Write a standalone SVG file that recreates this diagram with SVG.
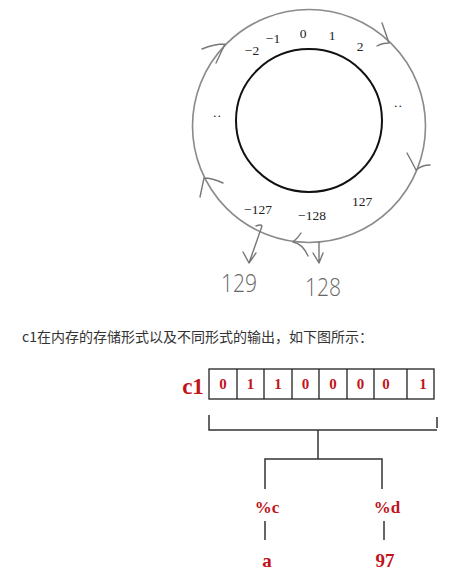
<svg xmlns="http://www.w3.org/2000/svg" width="474" height="586" viewBox="0 0 474 586">
<style>
.num{font-family:"Liberation Serif","DejaVu Serif",serif;font-size:13.5px;fill:#222;text-anchor:middle}
.hand{fill:none;stroke:#777;stroke-width:1.4;stroke-linecap:round;stroke-linejoin:round}
.hw{font-family:"Open Sans","DejaVu Sans",sans-serif;font-weight:300;font-size:26px;fill:#666;text-anchor:middle}
.red{font-family:"Liberation Serif","DejaVu Serif",serif;font-weight:bold;fill:#c0141c;text-anchor:middle}
.ln{stroke:#333;stroke-width:1.5;fill:none}
</style>
<rect width="474" height="586" fill="#fff"/>
<g id="ring">
<circle cx="309" cy="126" r="116.5" fill="none" stroke="#8a8a8a" stroke-width="1.6"/>
<ellipse cx="309" cy="120.5" rx="73" ry="71.5" fill="none" stroke="#111" stroke-width="2"/>
<text class="num" x="303" y="38">0</text>
<text class="num" x="332" y="40">1</text>
<text class="num" x="360" y="51">2</text>
<text class="num" x="273" y="43">−1</text>
<text class="num" x="252" y="55">−2</text>
<text class="num" x="217" y="120">··</text>
<text class="num" x="398" y="110">··</text>
<text class="num" x="258" y="214">−127</text>
<text class="num" x="312" y="220">−128</text>
<text class="num" x="362" y="206">127</text>
</g>
<g id="connectors">
<path class="hand" d="M202,49 Q214,44 225,44 M225,44 L216,63"/>
<path class="hand" d="M382,23 Q386,34 389,43 Q382,43 377,46"/>
<path class="hand" d="M223,183 Q212,178 204,178 M204,178 L200,197"/>
<path class="hand" d="M407,153 Q412,162 416,170 Q422,165 430,165"/>
<path class="hand" d="M256,226 Q261,224 262,226 L249,263 M243,252 L249,263 L256,253"/>
<path class="hand" d="M301,233 Q298,238 293,242 Q303,244 308,256"/>
<path class="hand" d="M319,242 L319,263 M313,253 L319,263 L323,253"/>
<text class="hw" x="239" y="292" textLength="36" lengthAdjust="spacingAndGlyphs">129</text>
<text class="hw" x="323" y="296" textLength="36" lengthAdjust="spacingAndGlyphs">128</text>
</g>
<text x="22" y="342" font-family="'Noto Sans CJK SC','Noto Sans',sans-serif" font-size="14" fill="#333">c1在内存的存储形式以及不同形式的输出，如下图所示：</text>
<g id="c1">
<text class="red" x="193" y="394" font-size="23">c1</text>
<rect x="209" y="369" width="225" height="30" fill="none" stroke="#222" stroke-width="1.3"/>
<path d="M237,369V399M264,369V399M292,369V399M319,369V399M347,369V399M374,369V399M407,369V399" stroke="#222" stroke-width="1.3"/>
<g class="red" font-size="15">
<text x="223" y="389">0</text><text x="250.5" y="389">1</text><text x="278" y="389">1</text><text x="305.5" y="389">0</text><text x="333" y="389">0</text><text x="360.5" y="389">0</text><text x="386" y="389">0</text><text x="423" y="389">1</text>
</g>
</g>
<g id="tree">
<path class="ln" d="M209,415V430H437M437,417V428M318,430V459M265,489V459H382V489M265,521V540M384,521V540"/>
</g>
<g id="fmt-c"><text class="red" x="267" y="513" font-size="17">%c</text><text class="red" x="267" y="567" font-size="19">a</text></g>
<g id="fmt-d"><text class="red" x="387" y="513" font-size="17">%d</text><text class="red" x="385" y="567" font-size="19">97</text></g>
</svg>
